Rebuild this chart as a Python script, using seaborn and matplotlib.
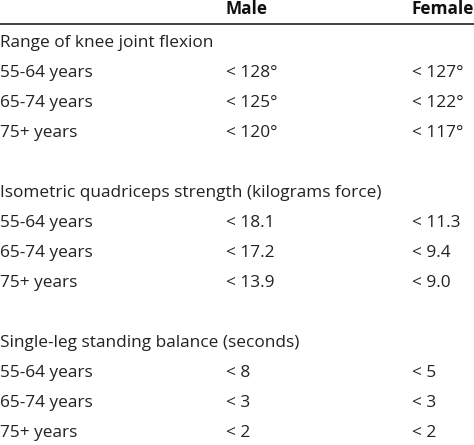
import matplotlib
matplotlib.use("Agg")
import matplotlib.pyplot as plt
import seaborn as sns

sns.set_theme(style="white")
plt.rcParams['font.family'] = ['Open Sans', 'DejaVu Sans']

headers = ["Male", "Female"]
sections = ["Range of knee joint flexion",
            "Isometric quadriceps strength (kilograms force)",
            "Single-leg standing balance (seconds)"]
age_groups = ["55-64 years", "65-74 years", "75+ years"]
male_vals = [["< 128°", "< 125°", "< 120°"],
             ["< 18.1", "< 17.2", "< 13.9"],
             ["< 8", "< 3", "< 2"]]
female_vals = [["< 127°", "< 122°", "< 117°"],
               ["< 11.3", "< 9.4", "< 9.0"],
               ["< 5", "< 3", "< 2"]]

fig = plt.figure(figsize=(4.74, 4.45), dpi=100)
ax = fig.add_axes([0, 0, 1, 1])
ax.set_xlim(0, 474)
ax.set_ylim(445, 0)
ax.axis("off")

fs = 12.4
col_x = [0, 226, 412]
ax.text(247, 9, headers[0], ha="center", va="center", fontsize=fs, fontweight="bold", color="#111")
ax.text(412, 9, headers[1], ha="left", va="center", fontsize=fs, fontweight="bold", color="#111")
ax.plot([0, 474], [24, 24], color="#333", lw=1.3)

sec_y = [43, 193, 343]
step = 30
for s, sec in enumerate(sections):
    y0 = sec_y[s]
    ax.text(col_x[0], y0, sec, ha="left", va="center", fontsize=fs, color="#222")
    for i, ag in enumerate(age_groups):
        y = y0 + step * (i + 1)
        ax.text(col_x[0], y, ag, ha="left", va="center", fontsize=fs, color="#222")
        ax.text(col_x[1], y, male_vals[s][i], ha="left", va="center", fontsize=fs, color="#222")
        ax.text(col_x[2], y, female_vals[s][i], ha="left", va="center", fontsize=fs, color="#222")

fig.savefig("out.png", dpi=100)
